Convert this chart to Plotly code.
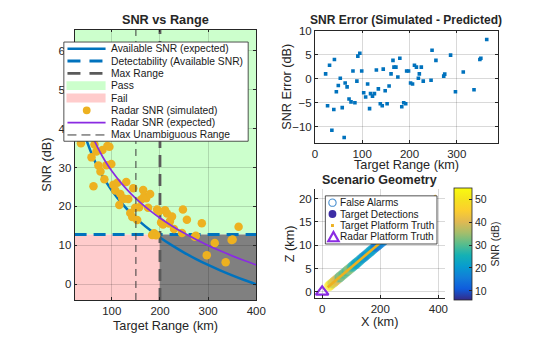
import numpy as np
import plotly.graph_objects as go

# ---------------------------------------------------------------- data
# Target ranges (km) of each detection, simulated SNR (dB) and the
# simulated-minus-predicted SNR error (dB) at those ranges.
det_range_km = [22.7, 26.8, 31.0, 35.9, 40.0, 41.3, 45.4, 49.5, 53.7, 57.8,
                61.9, 64.0, 68.1, 72.2, 76.4, 80.5, 84.6, 88.8, 90.8, 95.0,
                99.0, 103.2, 107.3, 111.5, 115.6, 117.6, 121.8, 125.9, 130.0, 134.2,
                138.3, 142.4, 144.5, 148.6, 152.7, 156.9, 161.0, 165.1, 167.2, 171.3,
                175.4, 179.6, 183.7, 187.8, 192.0, 194.0, 198.0, 202.3, 206.4, 210.5,
                214.7, 218.8, 220.8, 225.0, 229.1, 245.6, 247.7, 255.9, 272.4, 274.5,
                286.9, 297.2, 313.7, 336.4, 348.8, 350.9, 363.3]
sim_snr_db = [55.8, 46.4, 52.2, 36.2, 38.6, 48.4, 40.1, 39.9, 40.0, 32.6,
              25.2, 35.9, 34.1, 30.5, 29.0, 34.5, 27.0, 30.6, 35.5, 35.3,
              30.9, 25.6, 24.1, 26.1, 20.4, 23.2, 22.1, 22.0, 26.3, 21.9,
              18.3, 17.3, 24.7, 19.7, 16.5, 19.8, 21.8, 24.2, 22.6, 22.1,
              19.7, 23.2, 12.7, 13.1, 12.6, 19.2, 18.8, 15.9, 15.4, 19.0,
              18.2, 15.6, 16.3, 17.4, 14.2, 13.2, 19.2, 16.6, 12.2, 12.5,
              15.7, 7.5, 10.6, 5.7, 11.4, 11.5, 14.8]
snr_error_db = [1.0, -5.6, 2.8, -10.7, -6.4, 4.0, -2.7, -1.4, 0.1, -6.0,
                -12.2, -0.9, -1.7, -4.2, -4.8, 1.6, -5.0, -0.5, 4.7, 5.3,
                1.6, -2.9, -3.8, -1.1, -6.2, -3.1, -3.6, -3.1, 1.8, -2.1,
                -5.2, -5.6, 2.0, -2.5, -5.2, -1.5, 1.0, 3.8, 2.4, 2.4,
                0.35, 4.25, -5.8, -5.0, -5.2, 1.6, 1.6, -0.9, -1.1, 2.8,
                2.4, 0.1, 1.0, 2.4, -0.5, -0.3, 5.9, 3.8, 0.55, 0.96,
                4.9, -2.7, 1.4, -2.3, 4.0, 4.25, 8.15]

# Expected SNR curves versus range
curve_range_km = [22.7, 25, 30, 35, 40, 50, 60, 70, 80, 90, 100, 120, 140, 160,
                  180, 200, 225, 250, 275, 300, 325, 350, 375, 400]
available_snr_db = [49.84, 48.16, 45.0, 42.32, 40.0, 36.12, 32.96, 30.28, 27.96,
                    25.91, 24.08, 20.92, 18.24, 15.92, 13.87, 12.04, 10.0, 8.16,
                    6.51, 5.0, 3.61, 2.32, 1.12, 0.0]
radar_expected_snr_db = [54.84, 53.16, 50.0, 47.32, 45.0, 41.12, 37.96, 35.28,
                         32.96, 30.91, 29.08, 25.92, 23.24, 20.92, 18.87, 17.04,
                         15.0, 13.16, 11.51, 10.0, 8.61, 7.32, 6.12, 5.0]

detectability_snr_db = 12.8
max_range_km = 200
max_unambiguous_range_km = 150

# Scenario geometry
target_elevation_deg = 3.0
truth_x_km = [19, 392]
truth_z_km = [1.0, 20.7]
radar_x_km = [0]
radar_z_km = [0]

# Axis limits
snr_x_lim = [22.7, 400]
snr_y_lim = [-4.0, 65.4]
err_x_lim = [0, 387]
err_y_lim = [-13.3, 10]
geo_x_lim = [-25, 422]
geo_z_lim = [-1.4, 22]
snr_color_lim = [6, 55]

# ---------------------------------------------------------------- style
W, H = 560, 337
FONT = "Liberation Sans, Arial, Helvetica, sans-serif"
TXT = "#262626"
BLUE = "#0072BD"
ORANGE = "#EDB120"
PURPLE = "#8A2BE2"
GREEN_FILL = "#CCFFCC"
PINK_FILL = "#FFCCCC"
GRAY_FILL = "#808080"

PARULA = [[0.0, "rgb(53,42,135)"], [0.1, "rgb(15,92,221)"], [0.2, "rgb(18,125,216)"],
          [0.3, "rgb(7,156,207)"], [0.4, "rgb(21,177,180)"], [0.5, "rgb(89,189,140)"],
          [0.6, "rgb(165,190,107)"], [0.7, "rgb(225,185,82)"], [0.8, "rgb(252,206,46)"],
          [0.9, "rgb(245,227,30)"], [1.0, "rgb(249,251,14)"]]


def fx(px):
    return px / W


def fy(py):
    return 1 - py / H


el = np.deg2rad(target_elevation_deg)
det_x_km = np.array(det_range_km) * np.cos(el)
det_z_km = np.array(det_range_km) * np.sin(el)

fig = go.Figure()

# ---- SNR vs Range
fig.add_trace(go.Scatter(x=curve_range_km, y=available_snr_db, mode="lines",
                         line=dict(color=BLUE, width=2.5, shape="spline"),
                         xaxis="x", yaxis="y"))
fig.add_trace(go.Scatter(x=snr_x_lim, y=[detectability_snr_db] * 2, mode="lines",
                         line=dict(color=BLUE, width=2.8, dash="12px,7px"),
                         xaxis="x", yaxis="y"))
fig.add_trace(go.Scatter(x=[max_range_km] * 2, y=snr_y_lim, mode="lines",
                         line=dict(color="#5a5a5a", width=2.8, dash="12px,7px"),
                         xaxis="x", yaxis="y"))
fig.add_trace(go.Scatter(x=det_range_km, y=sim_snr_db, mode="markers",
                         marker=dict(color=ORANGE, size=8.5, line=dict(width=0)),
                         xaxis="x", yaxis="y"))
fig.add_trace(go.Scatter(x=curve_range_km, y=radar_expected_snr_db, mode="lines",
                         line=dict(color=PURPLE, width=1.7, shape="spline"),
                         xaxis="x", yaxis="y"))
fig.add_trace(go.Scatter(x=[max_unambiguous_range_km] * 2, y=snr_y_lim, mode="lines",
                         line=dict(color="#3a3a3a", width=1, dash="7px,5px"),
                         xaxis="x", yaxis="y"))

# ---- SNR error
fig.add_trace(go.Scatter(x=det_range_km, y=snr_error_db, mode="markers",
                         marker=dict(color=BLUE, size=3.6, symbol="square",
                                     line=dict(width=0)),
                         xaxis="x2", yaxis="y2"))

# ---- Scenario geometry
fig.add_trace(go.Scatter(
    x=det_x_km, y=det_z_km, mode="markers",
    marker=dict(size=10.5, color=sim_snr_db, colorscale=PARULA,
                cmin=snr_color_lim[0], cmax=snr_color_lim[1], opacity=0.45,
                line=dict(width=0),
                colorbar=dict(x=fx(461.7), xanchor="left", xref="paper",
                              y=fy(299.3), yanchor="bottom",
                              len=(299.3 - 185) / H, lenmode="fraction",
                              thickness=18.3, xpad=0, ypad=0,
                              outlinecolor=TXT, outlinewidth=0.8,
                              ticks="inside", ticklen=3, tickcolor=TXT,
                              tickvals=[10, 20, 30, 40, 50],
                              tickfont=dict(size=10.5, color=TXT, family=FONT),
                              title=dict(text="SNR (dB)", side="right",
                                         font=dict(size=10.5, color=TXT, family=FONT)))),
    xaxis="x3", yaxis="y3"))
fig.add_trace(go.Scatter(x=truth_x_km, y=truth_z_km, mode="lines",
                         line=dict(color=ORANGE, width=2.6),
                         xaxis="x3", yaxis="y3"))
fig.add_trace(go.Scatter(x=radar_x_km, y=radar_z_km, mode="markers",
                         marker=dict(symbol="triangle-up-open", size=11, color=PURPLE,
                                     line=dict(color=PURPLE, width=2.2)),
                         xaxis="x3", yaxis="y3", cliponaxis=False))

for tr in fig.data:
    tr.showlegend = False
    tr.hoverinfo = "skip"

axis_common = dict(showline=True, linecolor=TXT, linewidth=0.8, ticks="inside",
                   ticklen=3, tickcolor=TXT, showgrid=True,
                   gridcolor="rgba(0,0,0,0.15)", gridwidth=0.8, zeroline=False,
                   tickfont=dict(size=11.5, color=TXT, family=FONT))

fig.update_layout(
    width=W, height=H, margin=dict(l=0, r=0, t=0, b=0),
    paper_bgcolor="white", plot_bgcolor="white", showlegend=False,
    font=dict(family=FONT, color=TXT),
    xaxis=dict(domain=[fx(73.3), fx(259.3)], range=snr_x_lim, anchor="y",
               tickvals=[100, 200, 300, 400], mirror="ticks", **axis_common),
    yaxis=dict(domain=[fy(299.3), fy(24)], range=snr_y_lim, anchor="x",
               tickvals=[0, 10, 20, 30, 40, 50, 60], mirror="ticks", **axis_common),
    xaxis2=dict(domain=[fx(319.3), fx(506.7)], range=err_x_lim, anchor="y2",
                tickvals=[0, 100, 200, 300], mirror="ticks", **axis_common),
    yaxis2=dict(domain=[fy(139.3), fy(25)], range=err_y_lim, anchor="x2",
                tickvals=[-10, -5, 0, 5, 10], mirror="ticks", **axis_common),
    xaxis3=dict(domain=[fx(319.3), fx(452.3)], range=geo_x_lim, anchor="y3",
                tickvals=[0, 200, 400], **axis_common),
    yaxis3=dict(domain=[fy(297.7), fy(186.7)], range=geo_z_lim, anchor="x3",
                tickvals=[0, 5, 10, 15, 20], **axis_common),
)

# Pass / fail regions behind the SNR curves
shapes = [
    dict(type="rect", xref="x", yref="y", layer="below", line=dict(width=0),
         fillcolor=GREEN_FILL, x0=snr_x_lim[0], x1=snr_x_lim[1],
         y0=detectability_snr_db, y1=snr_y_lim[1]),
    dict(type="rect", xref="x", yref="y", layer="below", line=dict(width=0),
         fillcolor=PINK_FILL, x0=snr_x_lim[0], x1=max_range_km,
         y0=snr_y_lim[0], y1=detectability_snr_db),
    dict(type="rect", xref="x", yref="y", layer="below", line=dict(width=0),
         fillcolor=GRAY_FILL, x0=max_range_km, x1=snr_x_lim[1],
         y0=snr_y_lim[0], y1=detectability_snr_db),
]

annotations = []


def text(s, x, y, size, bold=False, angle=0, xanchor="center", color=TXT):
    annotations.append(dict(text=f"<b>{s}</b>" if bold else s, xref="paper", yref="paper",
                            x=fx(x), y=fy(y), xanchor=xanchor, yanchor="middle",
                            showarrow=False, textangle=angle, borderpad=0,
                            font=dict(size=size, color=color, family=FONT)))


# Titles and axis labels
text("SNR vs Range", 166.3, 14.5, 12.7, bold=True)
text("Target Range (km)", 166.3, 326, 12.7)
text("SNR (dB)", 45, 161.7, 12.7, angle=-90)
text("SNR Error (Simulated - Predicted)", 413, 14.5, 12, bold=True)
text("Target Range (km)", 413, 162, 12.7)
text("SNR Error (dB)", 290, 82, 12.7, angle=-90)
text("Scenario Geometry", 385.8, 176.8, 12.5, bold=True)
text("X (km)", 385.8, 321.5, 12.7)
text("Z (km)", 293.3, 242, 12.7, angle=-90)


def pline(x0, x1, y, color, width, dash="solid"):
    shapes.append(dict(type="line", xref="paper", yref="paper", layer="above",
                       x0=fx(x0), x1=fx(x1), y0=fy(y), y1=fy(y),
                       line=dict(color=color, width=width, dash=dash)))


def prect(x0, x1, y0, y1, fill, line_color=None, lw=0):
    shapes.append(dict(type="rect", xref="paper", yref="paper", layer="above",
                       x0=fx(x0), x1=fx(x1), y0=fy(y1), y1=fy(y0), fillcolor=fill,
                       line=dict(color=line_color or fill, width=lw)))


def pcircle(cx, cy, d, fill, line_color, lw):
    shapes.append(dict(type="circle", xref="paper", yref="paper", layer="above",
                       x0=fx(cx - d / 2), x1=fx(cx + d / 2),
                       y0=fy(cy + d / 2), y1=fy(cy - d / 2), fillcolor=fill,
                       line=dict(color=line_color, width=lw)))


# Legend of the SNR vs Range axes
prect(62.3, 251, 36.7, 137.7, "white", "#262626", 0.8)
rows = [43.4, 56.0, 68.6, 81.1, 93.7, 106.2, 118.8, 131.3]
kx0, kx1, tx = 66, 105, 109.3
pline(kx0, kx1, rows[0], BLUE, 2.5)
pline(kx0, kx1, rows[1], BLUE, 2.8, "13px,9px")
pline(kx0, kx1, rows[2], "#5a5a5a", 2.8, "13px,9px")
prect(65, 105, rows[3] - 4.5, rows[3] + 4.5, GREEN_FILL)
prect(65, 105, rows[4] - 4.5, rows[4] + 4.5, PINK_FILL)
pcircle(85.7, rows[5], 8, ORANGE, ORANGE, 0)
pline(kx0, kx1, rows[6], PURPLE, 1.7)
pline(kx0, kx1, rows[7], "#3a3a3a", 1, "9px,5px")
left_labels = ["Available SNR (expected)", "Detectability (Available SNR)", "Max Range",
               "Pass", "Fail", "Radar SNR (simulated)", "Radar SNR (expected)",
               "Max Unambiguous Range"]
for lab, r in zip(left_labels, rows):
    text(lab, tx, r, 10.3, xanchor="left", color="#1a1a1a")

# Legend of the scenario geometry axes
prect(330, 444.3, 193.3, 242.3, "white", "#262626", 0.8)
grows = [200.2, 211.8, 223.5, 235.0]
pcircle(337.3, grows[0], 7.5, "rgba(0,0,0,0)", "#4a90d0", 1.1)
pcircle(337.3, grows[1], 8, "rgb(60,45,165)", "rgb(60,45,165)", 0)
prect(335.8, 338.8, grows[2] - 1.5, grows[2] + 1.5, ORANGE)
shapes.append(dict(type="path", xref="paper", yref="paper", layer="above",
                   path=f"M {fx(333.0)} {fy(239.5)} L {fx(343.6)} {fy(239.5)} "
                        f"L {fx(338.3)} {fy(230.0)} Z",
                   line=dict(color=PURPLE, width=2.2), fillcolor="rgba(0,0,0,0)"))
geo_labels = ["False Alarms", "Target Detections", "Target Platform Truth",
              "Radar Platform Truth"]
for lab, r in zip(geo_labels, grows):
    text(lab, 344.3, r, 10.1, xanchor="left", color="#1a1a1a")

fig.update_layout(shapes=shapes, annotations=annotations)
fig.write_html("out.html")
